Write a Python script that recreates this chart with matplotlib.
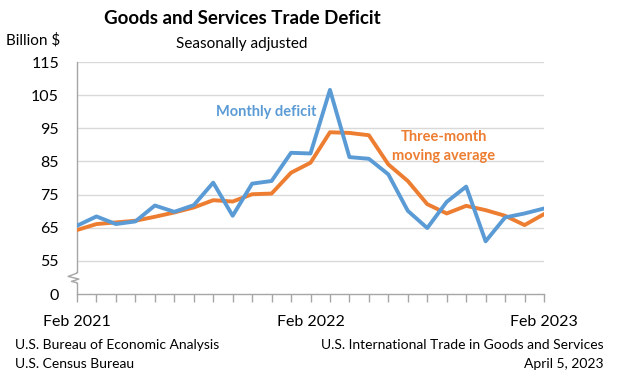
import matplotlib
matplotlib.use('Agg')
import matplotlib.pyplot as plt
from matplotlib.patches import Rectangle
import matplotlib.transforms as mtransforms

# Feb 2021 .. Feb 2023, billion $
months = ['Feb 2021', 'Mar 2021', 'Apr 2021', 'May 2021', 'Jun 2021', 'Jul 2021',
          'Aug 2021', 'Sep 2021', 'Oct 2021', 'Nov 2021', 'Dec 2021', 'Jan 2022',
          'Feb 2022', 'Mar 2022', 'Apr 2022', 'May 2022', 'Jun 2022', 'Jul 2022',
          'Aug 2022', 'Sep 2022', 'Oct 2022', 'Nov 2022', 'Dec 2022', 'Jan 2023',
          'Feb 2023']
monthly = [65.6, 68.4, 66.1, 66.9, 71.7, 69.8, 71.8, 78.6, 68.6, 78.3, 79.1, 87.6,
           87.4, 106.6, 86.3, 85.8, 81.1, 70.1, 64.9, 72.8, 77.4, 60.9, 68.1, 69.3,
           70.8]
moving_avg = [64.3, 66.1, 66.6, 67.1, 68.3, 69.6, 71.1, 73.3, 72.9, 75.1, 75.3, 81.6,
              84.6, 93.8, 93.6, 92.9, 84.1, 79.1, 72.1, 69.3, 71.6, 70.3, 68.6, 65.8,
              69.1]
# the axis is broken: the "0" label sits where 45 would be
ytick_vals = [45, 55, 65, 75, 85, 95, 105, 115]
ytick_labels = ['0', '55', '65', '75', '85', '95', '105', '115']
xlabel_months = ['Feb 2021', 'Feb 2022', 'Feb 2023']

BLUE = '#5B9BD5'
ORANGE = '#ED7D31'
GRID = '#D9D9D9'
AXIS = '#A6A6A6'

plt.rcParams['font.family'] = ['Lato', 'DejaVu Sans']

W, H = 619, 376


def fx(px):
    return px / W


def fy(py):
    return 1 - py / H


fig = plt.figure(figsize=(W / 100, H / 100), dpi=100)
ax = fig.add_axes([fx(77), fy(294), 467 / W, 232 / H])

x = list(range(len(months)))
ax.plot(x, moving_avg, color=ORANGE, lw=2.8, solid_joinstyle='round', zorder=3)
ax.plot(x, monthly, color=BLUE, lw=2.8, solid_joinstyle='round', zorder=4)

ax.set_xlim(0, len(months) - 1)
ax.set_ylim(45, 115)
ax.set_yticks(ytick_vals)
ax.set_yticklabels(ytick_labels, fontsize=11.5)
ax.tick_params(axis='y', length=0, pad=13)
for v in ytick_vals[1:]:
    ax.axhline(v, color=GRID, lw=1, zorder=1)

ax.set_xticks(x)
ax.set_xticklabels([m if m in xlabel_months else '' for m in months], fontsize=11.5)
ax.tick_params(axis='x', length=6, width=1, color=AXIS, direction='out', pad=9)

for s in ['top', 'right']:
    ax.spines[s].set_visible(False)
for s in ['left', 'bottom']:
    ax.spines[s].set_color(AXIS)
    ax.spines[s].set_linewidth(1)

# axis break symbol on the y axis
trans = mtransforms.blended_transform_factory(ax.transAxes, ax.transData)
ax.add_patch(Rectangle((-0.01, 48.3), 0.02, 3.0, transform=trans, facecolor='white',
                       edgecolor='none', clip_on=False, zorder=5))
ax.plot([0, 0, -0.019, 0.004, -0.012, 0.0, 0.0], [51.5, 51.3, 50.3, 49.5, 48.8, 48.4, 48.3],
        color=AXIS, lw=1, transform=trans, clip_on=False, zorder=6)

# series labels
fig.text(fx(266), fy(112), 'Monthly deficit', color=BLUE, fontsize=10.5,
         fontweight='bold', ha='center', va='center')
fig.text(fx(444), fy(137), 'Three-month', color=ORANGE, fontsize=10.5,
         fontweight='bold', ha='center', va='center')
fig.text(fx(444), fy(156), 'moving average', color=ORANGE, fontsize=10.5,
         fontweight='bold', ha='center', va='center')

fig.text(fx(242), fy(18), 'Goods and Services Trade Deficit', fontsize=13.5,
         fontweight='bold', ha='center', va='center')
fig.text(fx(242), fy(44), 'Seasonally adjusted', fontsize=11,
         ha='center', va='center')
fig.text(fx(6), fy(40), 'Billion $', fontsize=11, ha='left', va='center')

# footer
fig.text(fx(15), fy(345), 'U.S. Bureau of Economic Analysis', fontsize=10,
         ha='left', va='center')
fig.text(fx(15), fy(364), 'U.S. Census Bureau', fontsize=10,
         ha='left', va='center')
fig.text(fx(604), fy(345), 'U.S. International Trade in Goods and Services',
         fontsize=10, ha='right', va='center')
fig.text(fx(604), fy(364), 'April 5, 2023', fontsize=10,
         ha='right', va='center')

fig.savefig('out.png', dpi=100)
